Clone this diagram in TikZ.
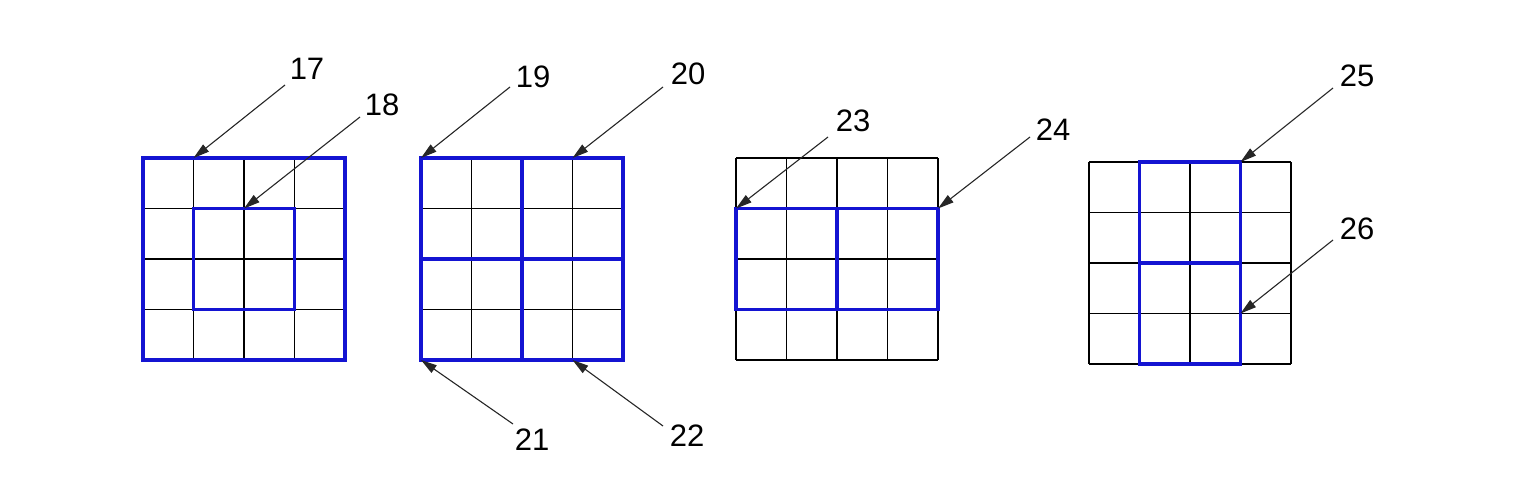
\documentclass[tikz,border=0pt]{standalone}
\usepackage{fontspec}
\setmainfont{Liberation Sans}
\usetikzlibrary{arrows.meta}
\tikzset{
  thin grid/.style={black, line width=1.8pt},
  blue frame/.style={draw={rgb,255:red,20;green,20;blue,210}, line width=3.3pt, line cap=rect, line join=miter},
  lbl/.style={font=\fontsize{31}{36}\selectfont, inner sep=0pt},
  pointer/.style={black!85, line width=1.1pt, -{Triangle[length=16pt,width=9pt]}}
}
\begin{document}
\begin{tikzpicture}[x=1pt,y=-1pt]
\useasboundingbox (0,0) rectangle (1536,500);
\def\s{50.5}
% grid 1
\begin{scope}[shift={(143,158)}]
  \foreach \i in {0,...,4}{
    \draw[thin grid] (\i*\s,0) -- (\i*\s,4*\s);
    \draw[thin grid] (0,\i*\s) -- (4*\s,\i*\s);}
  \draw[blue frame] (0,0) rectangle (4*\s,4*\s);
  \draw[blue frame] (\s,\s) rectangle (3*\s,3*\s);
  \coordinate (t17) at (\s,0);
  \coordinate (t18) at (2*\s,\s);
\end{scope}
% grid 2
\begin{scope}[shift={(421,158)}]
  \foreach \i in {0,...,4}{
    \draw[thin grid] (\i*\s,0) -- (\i*\s,4*\s);
    \draw[thin grid] (0,\i*\s) -- (4*\s,\i*\s);}
  \draw[blue frame] (0,0) rectangle (4*\s,4*\s);
  \draw[blue frame] (2*\s,0) -- (2*\s,4*\s);
  \draw[blue frame] (0,2*\s) -- (4*\s,2*\s);
  \coordinate (t19) at (0,0);
  \coordinate (t20) at (3*\s,0);
  \coordinate (t21) at (0,4*\s);
  \coordinate (t22) at (3*\s,4*\s);
\end{scope}
% grid 3
\begin{scope}[shift={(736,158)}]
  \foreach \i in {0,...,4}{
    \draw[thin grid] (\i*\s,0) -- (\i*\s,4*\s);
    \draw[thin grid] (0,\i*\s) -- (4*\s,\i*\s);}
  \draw[blue frame] (0,\s) rectangle (4*\s,3*\s);
  \draw[blue frame] (2*\s,\s) -- (2*\s,3*\s);
  \coordinate (t23) at (0,\s);
  \coordinate (t24) at (4*\s,\s);
\end{scope}
% grid 4
\begin{scope}[shift={(1089,162)}]
  \foreach \i in {0,...,4}{
    \draw[thin grid] (\i*\s,0) -- (\i*\s,4*\s);
    \draw[thin grid] (0,\i*\s) -- (4*\s,\i*\s);}
  \draw[blue frame] (\s,0) rectangle (3*\s,4*\s);
  \draw[blue frame] (\s,2*\s) -- (3*\s,2*\s);
  \coordinate (t25) at (3*\s,0);
  \coordinate (t26) at (3*\s,3*\s);
\end{scope}
% labels
\node[lbl] (n17) at (307,69) {17};
\node[lbl] (n18) at (382,105) {18};
\node[lbl] (n19) at (533,77) {19};
\node[lbl] (n20) at (688,74) {20};
\node[lbl] (n21) at (532,440) {21};
\node[lbl] (n22) at (687,436) {22};
\node[lbl] (n23) at (853,121) {23};
\node[lbl] (n24) at (1053,130) {24};
\node[lbl] (n25) at (1357,76) {25};
\node[lbl] (n26) at (1357,229) {26};
% pointer starts
\coordinate (s17) at (285,85);
\coordinate (s18) at (360,117);
\coordinate (s19) at (510,87);
\coordinate (s20) at (663,87);
\coordinate (s21) at (513,424);
\coordinate (s22) at (663,426);
\coordinate (s23) at (828,137);
\coordinate (s24) at (1030,137);
\coordinate (s25) at (1333,88);
\coordinate (s26) at (1333,240);
\foreach \k in {17,...,26}{
  \draw[pointer] (s\k) -- (t\k);}
\end{tikzpicture}
\end{document}
